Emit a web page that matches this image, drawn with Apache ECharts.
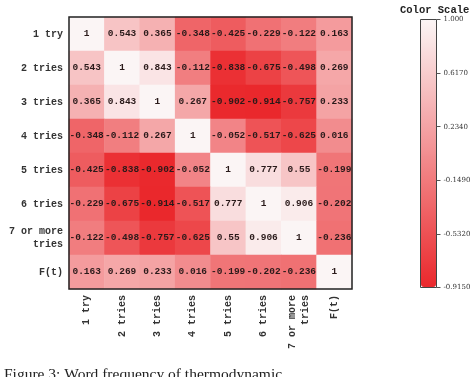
<!DOCTYPE html>
<html>
<head>
<meta charset="utf-8">
<script src="https://cdn.jsdelivr.net/npm/echarts@6/dist/echarts.min.js"></script>
<style>
html, body { margin: 0; padding: 0; background: #fff; }
#container { width: 474px; height: 377px; }
</style>
</head>
<body>
<div id="container"></div>
<script>
// 类别
var labels = ['1 try', '2 tries', '3 tries', '4 tries', '5 tries', '6 tries', '7 or more\ntries', 'F(t)'];
// 相关系数矩阵（按行）
var row1 = [1, 0.543, 0.365, -0.348, -0.425, -0.229, -0.122, 0.163];
var row2 = [0.543, 1, 0.843, -0.112, -0.838, -0.675, -0.498, 0.269];
var row3 = [0.365, 0.843, 1, 0.267, -0.902, -0.914, -0.757, 0.233];
var row4 = [-0.348, -0.112, 0.267, 1, -0.052, -0.517, -0.625, 0.016];
var row5 = [-0.425, -0.838, -0.902, -0.052, 1, 0.777, 0.55, -0.199];
var row6 = [-0.229, -0.675, -0.914, -0.517, 0.777, 1, 0.906, -0.202];
var row7 = [-0.122, -0.498, -0.757, -0.625, 0.55, 0.906, 1, -0.236];
var row8 = [0.163, 0.269, 0.233, 0.016, -0.199, -0.202, -0.236, 1];
var rows = [row1, row2, row3, row4, row5, row6, row7, row8];
// 色标刻度
var scaleMin = -0.915;
var scaleMax = 1;
var scaleTicks = [-0.915, -0.532, -0.149, 0.234, 0.617, 1];
var scaleTickLabels = ['-0.9150', '-0.5320', '-0.1490', '0.2340', '0.6170', '1.000'];

var cells = [];
for (var r = 0; r < rows.length; r++) {
	for (var c = 0; c < rows[r].length; c++) {
		cells.push([c, r, rows[r][c]]);
	}
}

var font = 'Liberation Mono';
var dom = document.getElementById('container');
var myChart = echarts.init(dom);

var option = {
	animation: false,
	title: [{
		text: 'Color Scale',
		left: 395,
		top: 0,
		textStyle: { fontFamily: font, fontSize: 10.5, fontWeight: 'bold', color: '#222' }
	}, {
		text: 'Figure 3: Word frequency of thermodynamic',
		left: -1,
		top: 362,
		textStyle: { fontFamily: 'Liberation Serif', fontSize: 15.5, fontWeight: 'normal', color: '#222' }
	}],
	grid: [{
		left: 69, top: 17, width: 283, height: 272, z: 5,
		show: true, borderColor: '#222', borderWidth: 1.5, backgroundColor: 'transparent'
	}, {
		left: 420.5, top: 19.5, width: 16, height: 268, z: 5,
		show: true, borderColor: '#444', borderWidth: 1, backgroundColor: 'transparent'
	}],
	xAxis: [{
		type: 'category',
		gridIndex: 0,
		data: labels,
		axisLine: { show: false },
		axisTick: { alignWithLabel: true, length: 4, lineStyle: { color: '#333' } },
		axisLabel: { rotate: 90, fontFamily: font, fontSize: 10, fontWeight: 'bold', color: '#333', margin: 6, lineHeight: 13 },
		splitLine: { show: false }
	}, {
		type: 'value',
		gridIndex: 1,
		min: 0,
		max: 1,
		show: false
	}],
	yAxis: [{
		type: 'category',
		gridIndex: 0,
		data: labels,
		inverse: true,
		axisLine: { show: false },
		axisTick: { alignWithLabel: true, length: 4, lineStyle: { color: '#333' } },
		axisLabel: { fontFamily: font, fontSize: 10, fontWeight: 'bold', color: '#333', margin: 6, lineHeight: 13 },
		splitLine: { show: false }
	}, {
		type: 'value',
		gridIndex: 1,
		position: 'right',
		min: scaleMin,
		max: scaleMax,
		z: 6,
		axisLine: { show: false, onZero: false },
		axisTick: { show: true, inside: false, length: 4, customValues: scaleTicks, lineStyle: { color: '#555' } },
		axisLabel: {
			show: true,
			customValues: scaleTicks,
			margin: 7,
			fontFamily: 'DejaVu Serif',
			fontSize: 7,
			color: '#333',
			formatter: function (v) {
				for (var i = 0; i < scaleTicks.length; i++) {
					if (Math.abs(scaleTicks[i] - v) < 1e-6) return scaleTickLabels[i];
				}
				return '';
			}
		},
		splitLine: { show: false }
	}],
	visualMap: {
		type: 'continuous',
		seriesIndex: 0,
		min: scaleMin,
		max: scaleMax,
		left: 421,
		top: 20,
		padding: 0,
		itemWidth: 15,
		itemHeight: 267,
		calculable: false,
		hoverLink: false,
		text: null,
		inRange: { color: ['#ea282c', '#fbf5f5'] }
	},
	series: [{
		type: 'heatmap',
		xAxisIndex: 0,
		yAxisIndex: 0,
		data: cells,
		label: {
			show: true,
			fontFamily: font,
			fontSize: 9.5,
			fontWeight: 'bold',
			color: '#2a1a1a',
			formatter: function (p) { return String(p.value[2]); }
		},
		itemStyle: { borderWidth: 0 }
	}]
};
myChart.setOption(option);
</script>
</body>
</html>
